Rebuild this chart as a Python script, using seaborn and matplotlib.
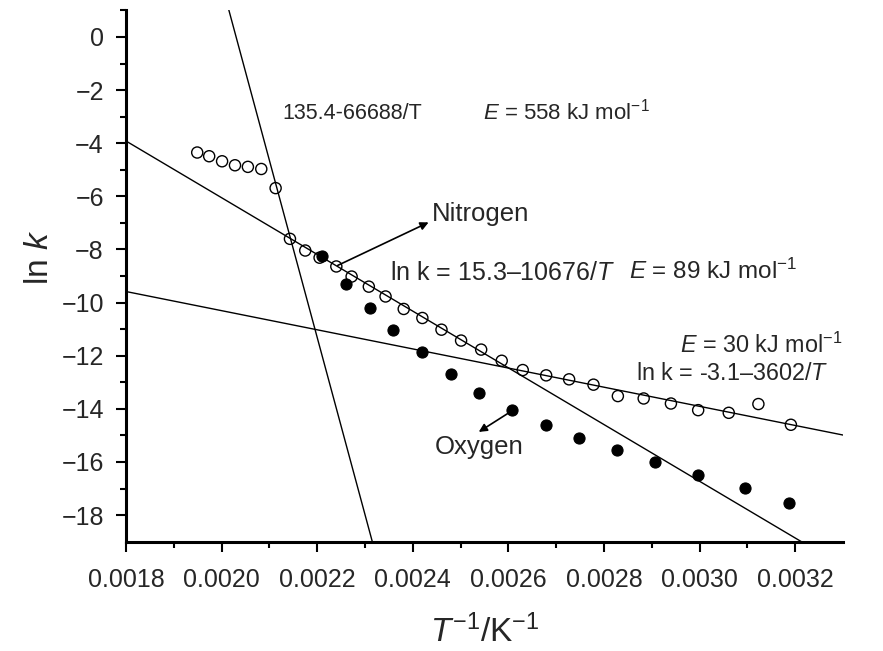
import numpy as np
import pandas as pd
import matplotlib
matplotlib.use("Agg")
import matplotlib.pyplot as plt
import seaborn as sns

# ---- data ----
n2_x = [0.001949, 0.001974, 0.002001, 0.002028, 0.002055, 0.002083, 0.002113,
        0.002143, 0.002175, 0.002205, 0.002240, 0.002272, 0.002308, 0.002343,
        0.002381, 0.002420, 0.002460, 0.002501, 0.002543, 0.002586, 0.002630,
        0.002679, 0.002727, 0.002778, 0.002829, 0.002883, 0.002940, 0.002997,
        0.003061, 0.003123, 0.003191]
n2_y = [-4.35, -4.49, -4.68, -4.83, -4.89, -4.97, -5.69,
        -7.60, -8.04, -8.31, -8.64, -9.02, -9.40, -9.77,
        -10.24, -10.58, -11.02, -11.43, -11.77, -12.19, -12.54,
        -12.74, -12.89, -13.09, -13.52, -13.61, -13.80, -14.05,
        -14.15, -13.82, -14.60]
o2_x = [0.002211, 0.002260, 0.002310, 0.002359, 0.002419, 0.002479, 0.002538,
        0.002608, 0.002678, 0.002747, 0.002827, 0.002907, 0.002997, 0.003096,
        0.003186]
o2_y = [-8.23, -9.30, -10.21, -11.02, -11.85, -12.69, -13.42,
        -14.04, -14.62, -15.08, -15.55, -16.00, -16.50, -16.97, -17.55]

fit_names = ["high", "mid", "low"]
fit_intercepts = [135.4, 15.3, -3.1]
fit_slopes = [-66688, -10676, -3602]
fit_xrange = [0.0018, 0.0033]

sns.set_style("ticks")
plt.rcParams['font.family'] = ['Liberation Sans', 'DejaVu Sans']
plt.rcParams['mathtext.fontset'] = 'custom'
plt.rcParams['mathtext.rm'] = 'Liberation Sans'
plt.rcParams['mathtext.it'] = 'Liberation Sans:italic'
plt.rcParams['mathtext.default'] = 'regular'

fig = plt.figure(figsize=(8.83, 6.51), dpi=100)
ax = fig.add_axes([0.1427, 0.168, 0.812, 0.816])

# fitted lines
rows = []
for name, a, b in zip(fit_names, fit_intercepts, fit_slopes):
    for xv in fit_xrange:
        rows.append({"fit": name, "x": xv, "y": a + b * xv})
fits = pd.DataFrame(rows)
sns.lineplot(data=fits, x="x", y="y", units="fit", estimator=None,
             color="black", linewidth=1.0, ax=ax, legend=False)

# data points
dn = pd.DataFrame({"x": n2_x, "y": n2_y})
do = pd.DataFrame({"x": o2_x, "y": o2_y})
sns.scatterplot(data=do, x="x", y="y", ax=ax, s=64, color="black",
                edgecolor="black", linewidth=0.8, zorder=3)
sns.scatterplot(data=dn, x="x", y="y", ax=ax, s=64, facecolor="none",
                edgecolor="black", linewidth=1.0, zorder=4)

ax.set_xlim(0.0018, 0.0033)
ax.set_ylim(-19, 1)
xt = np.arange(0.0018, 0.00321, 0.0002)
ax.set_xticks(xt)
ax.set_xticks(np.arange(0.0019, 0.0033, 0.0002), minor=True)
ax.set_xticklabels([f"{v:.4f}" for v in xt])
ax.set_yticks(np.arange(0, -19, -2))
ax.set_yticks(np.arange(1, -19, -2), minor=True)
ax.tick_params(axis="both", which="major", length=7, width=1.5,
               labelsize=18, direction="out", color="black")
ax.tick_params(axis="x", which="major", pad=12)
ax.tick_params(axis="y", which="major", pad=9)
ax.tick_params(axis="both", which="minor", length=4.5, width=1.5,
               direction="out", color="black")
for s in ["top", "right"]:
    ax.spines[s].set_visible(False)
for s in ["left", "bottom"]:
    ax.spines[s].set_linewidth(2.2)
    ax.spines[s].set_color("black")

ax.set_xlabel(r"$\mathit{T}^{-1}$/K$^{-1}$", fontsize=24, labelpad=16)
ax.set_ylabel(r"ln $\mathit{k}$", fontsize=24)
ax.yaxis.set_label_coords(-0.099, 0.535)

# annotations
ax.text(0.002128, -2.87, "135.4-66688/T", fontsize=15.5, va="center", ha="left")
ax.text(0.002546, -2.80, r"$\mathit{E}$ = 558 kJ mol$^{-1}$", fontsize=16, va="center", ha="left")
ax.text(0.002352, -8.90, r"ln k = 15.3–10676/$\mathit{T}$", fontsize=18, va="center", ha="left")
ax.text(0.002853, -8.82, r"$\mathit{E}$ = 89 kJ mol$^{-1}$", fontsize=17.5, va="center", ha="left")
ax.text(0.002960, -11.62, r"$\mathit{E}$ = 30 kJ mol$^{-1}$", fontsize=16.8, va="center", ha="left")
ax.text(0.002866, -12.68, r"ln k = -3.1–3602/$\mathit{T}$", fontsize=16.8, va="center", ha="left")

ax.annotate("", xy=(0.002433, -6.98), xytext=(0.002243, -8.60),
            arrowprops=dict(arrowstyle="-|>", color="black", lw=1.2,
                            mutation_scale=12, shrinkA=0, shrinkB=0))
ax.text(0.002439, -6.68, "Nitrogen", fontsize=18.5, va="center", ha="left")
ax.annotate("", xy=(0.002538, -14.87), xytext=(0.002607, -14.08),
            arrowprops=dict(arrowstyle="-|>", color="black", lw=1.2,
                            mutation_scale=12, shrinkA=0, shrinkB=0))
ax.text(0.002538, -15.42, "Oxygen", fontsize=18.5, va="center", ha="center")

fig.savefig("out.png", dpi=100)
